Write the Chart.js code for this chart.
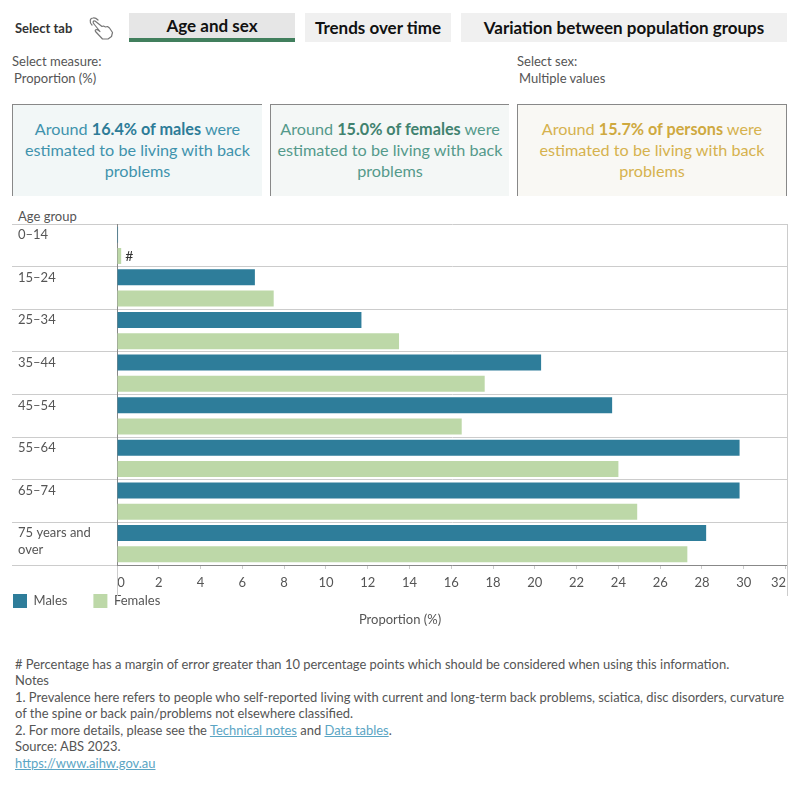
<!DOCTYPE html>
<html>
<head>
<meta charset="utf-8">
<script src="https://cdn.jsdelivr.net/npm/chart.js@4"></script>
<style>
html,body{margin:0;padding:0;background:#fff;width:800px;height:800px;overflow:hidden;font-family:Lato,sans-serif;color:#555}
.t{position:absolute;white-space:nowrap;line-height:16px}
.tab{position:absolute;top:13px;height:29px;background:#f0f0f0;color:#111;font-weight:700;font-size:17px;text-align:center;line-height:30px;box-sizing:border-box}
.card{position:absolute;top:104px;height:92px;box-sizing:border-box;border-top:1px solid #888;border-left:1px solid #888;font-size:16.2px;line-height:21px;text-align:center;padding-top:13px}
.card b{font-weight:700}
#notes{position:absolute;left:15px;top:655.500px;font-size:12.95px;line-height:16.5px;color:#555;white-space:nowrap}
#notes a{color:#5ba5c4;text-decoration:underline}
canvas{position:absolute;left:0;top:0}
</style>
</head>
<body>
<div class="t" style="left:15px;top:20px;font-size:13px;font-weight:700;color:#333">Select tab</div>
<svg style="position:absolute;left:87px;top:16px" width="28" height="24" viewBox="0 0 28 24" fill="none" stroke="#777" stroke-width="1.2" stroke-linejoin="round" stroke-linecap="round">
<path d="M5 9C2 6 3 2 6 2c2-.5 4 1 5 2"/><path d="M7 8C5.500 6.500 6 4.500 8 5l7 5.500 1.500-.5 2 1 2-.5 2 1.500 3 4.500-1 4-3.500 2.500-5.500 0-7-7.500c-1-1.500 1-2.500 2.500-1.500l2 1.500z"/>
</svg>
<div class="tab" style="left:129px;width:166px;background:#e6e6e6;border-bottom:4px solid #417f5d;line-height:26px">Age and sex</div>
<div class="tab" style="left:305px;width:146px">Trends over time</div>
<div class="tab" style="left:461px;width:326px">Variation between population groups</div>
<div class="t" style="left:12px;top:53px;font-size:13px">Select measure:</div>
<div class="t" style="left:14px;top:70px;font-size:13px">Proportion (%)</div>
<div class="t" style="left:517px;top:53px;font-size:13px">Select sex:</div>
<div class="t" style="left:519px;top:70px;font-size:13px">Multiple values</div>
<div class="card" style="left:12px;width:250px;background:#f2f7f7;color:#3f93ad">Around <b style="color:#2d7c98">16.4% of males</b> were<br>estimated to be living with back<br>problems</div>
<div class="card" style="left:270px;width:239px;background:#f4f7f6;color:#549a8b">Around <b style="color:#41826f">15.0% of females</b> were<br>estimated to be living with back<br>problems</div>
<div class="card" style="left:517px;width:270px;background:#f9f8f4;color:#d6b24e;border-right:1px solid #888">Around <b style="color:#cfa93f">15.7% of persons</b> were<br>estimated to be living with back<br>problems</div>
<div class="t" style="left:18px;top:208px;font-size:13px">Age group</div>
<canvas id="c" width="800" height="645"></canvas>
<div class="t" style="left:300px;width:200px;text-align:center;top:611px;font-size:13px">Proportion (%)</div>
<div id="notes">
# Percentage has a margin of error greater than 10 percentage points which should be considered when using this information.<br>
Notes<br>
1. Prevalence here refers to people who self-reported living with current and long-term back problems, sciatica, disc disorders, curvature<br>
of the spine or back pain/problems not elsewhere classified.<br>
2. For more details, please see the <a>Technical notes</a> and <a>Data tables</a>.<br>
Source: ABS 2023.<br>
<a>https://www.aihw.gov.au</a>
</div>
<script>
const categories = [['0–14',''],['15–24',''],['25–34',''],['35–44',''],['45–54',''],['55–64',''],['65–74',''],['75 years and','over']];
const males = [0.05,6.6,11.7,20.3,23.7,29.8,29.8,28.2];
const females = [0.2,7.5,13.5,17.6,16.5,24.0,24.9,27.3];
const flagText = '#';
const axisFont = {family:'Lato', size:13, lineHeight:'17px'};
const extras = {
  id:'extras',
  beforeDraw(chart){
    chart.legend.left = -13; chart.legend.top = 568;
    const items = chart.scales.x.getLabelItems();
    items[0].options.translation[0] += 4;
    items[items.length-1].options.translation[0] -= 7;
  },
  afterDatasetsDraw(chart){
    const {ctx} = chart, bar = chart.getDatasetMeta(1).data[0];
    ctx.save();
    ctx.fillStyle='#333'; ctx.font='14px Lato'; ctx.textBaseline='middle'; ctx.textAlign='left';
    ctx.fillText(flagText, bar.x+4, bar.y+1);
    ctx.restore();
  },
  afterDraw(chart){
    const {ctx} = chart, x0 = Math.round(chart.scales.x.getPixelForValue(0))+.5, a = chart.chartArea;
    ctx.save(); ctx.strokeStyle='#ccc'; ctx.lineWidth=1; ctx.beginPath();
    ctx.moveTo(x0,a.bottom+1); ctx.lineTo(x0,596);
    ctx.moveTo(Math.round(a.right)+.5,a.top); ctx.lineTo(Math.round(a.right)+.5,596);
    ctx.stroke(); ctx.restore();
  }
};
new Chart(document.getElementById('c'),{
  type:'bar',
  plugins:[extras],
  data:{labels:categories,datasets:[
    {label:'Males',data:males,backgroundColor:'#2e7d9a',barPercentage:.75,categoryPercentage:1},
    {label:'Females',data:females,backgroundColor:'#bdd8a8',barPercentage:.75,categoryPercentage:1}
  ]},
  options:{
    indexAxis:'y',responsive:false,animation:false,devicePixelRatio:1,
    layout:{padding:{left:18,right:13,top:224,bottom:0}},
    plugins:{tooltip:{enabled:false},
      legend:{position:'bottom',align:'start',onClick:null,
        labels:{boxWidth:14,boxHeight:14,padding:26,color:'#555',font:{family:'Lato',size:13}}}},
    scales:{
      x:{min:0,max:32.07,
        afterFit(s){s.height=30;},
        ticks:{stepSize:2,includeBounds:false,maxRotation:0,autoSkip:false,color:'#555',font:axisFont,padding:5},
        grid:{drawOnChartArea:false,drawTicks:true,tickLength:4,tickColor:'#ccc'},
        border:{color:'#888'}},
      y:{afterFit(s){s.width=99;},
        ticks:{crossAlign:'far',labelOffset:-2,color:'#555',font:axisFont,autoSkip:false},
        grid:{offset:true,color:'#ccc',tickColor:'#ccc',tickLength:105,drawOnChartArea:true},
        border:{color:'#888'}}
    }
  }
});
</script>
</body>
</html>
